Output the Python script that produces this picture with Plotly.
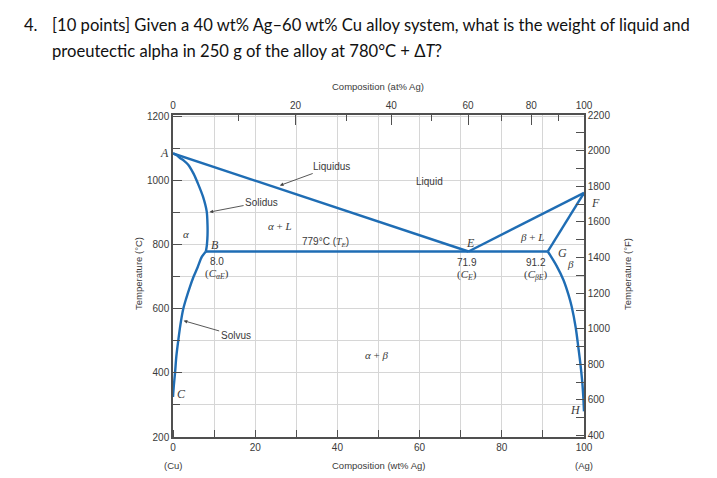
import plotly.graph_objects as go

# ---------------- data (wt% Ag, temperature degC) ----------------
liq_alpha_x = [0, 71.9]
liq_alpha_T = [1085, 779]
liq_beta_x = [71.9, 100]
liq_beta_T = [779, 962]
sol_alpha_x = [0, 0.8, 1.7, 2.7, 3.7, 5.0, 6.2, 7.3, 8.2, 8.4, 8.4, 8.25, 8.0]
sol_alpha_T = [1085, 1080, 1071, 1062, 1050, 1022, 987, 950, 904, 860, 830, 800, 779]
solv_alpha_x = [8.0, 7.0, 6.0, 5.0, 4.1, 3.2, 2.5, 1.8, 1.3, 0.8, 0.5, 0.2, 0.05, 0]
solv_alpha_T = [779, 762, 730, 700, 668, 632, 600, 550, 503, 450, 401, 360, 335, 325]
eut_x = [8.0, 91.2]
eut_T = [779, 779]
sol_beta_x = [100, 91.2]
sol_beta_T = [962, 779]
solv_beta_x = [91.2, 93.3, 95.0, 96.2, 97.0, 98.0, 98.6, 99.2, 99.6, 99.85, 100]
solv_beta_T = [779, 735, 690, 645, 607, 540, 482, 420, 368, 320, 280]

x_ticks_wt = [0, 20, 40, 60, 80, 100]
y_ticks_C = [200, 400, 600, 800, 1000, 1200]
y_ticks_F = [400, 600, 800, 1000, 1200, 1400, 1600, 1800, 2000, 2200]
at_major = [0, 20, 40, 60, 80, 100]
at_minor = [10, 30, 50, 70, 90]

M_AG, M_CU = 107.87, 63.55


def at_to_wt(a):
    return 100.0 * a * M_AG / (a * M_AG + (100 - a) * M_CU)


def c_to_f(c):
    return c * 1.8 + 32


BLUE = "#1f6db4"
AXC = "#505050"
GRID = "#d6d6d6"
TXT = "#3a3a3a"
SANS = "Liberation Sans"
SERIF = "Liberation Serif"

fig = go.Figure()
curves = [
    (liq_alpha_x, liq_alpha_T, "linear"),
    (liq_beta_x, liq_beta_T, "linear"),
    (sol_alpha_x, sol_alpha_T, "spline"),
    (solv_alpha_x, solv_alpha_T, "spline"),
    (eut_x, eut_T, "linear"),
    (sol_beta_x, sol_beta_T, "linear"),
    (solv_beta_x, solv_beta_T, "spline"),
]
for xs, ts, shp in curves:
    fig.add_trace(go.Scatter(
        x=xs, y=ts, mode="lines",
        line=dict(color=BLUE, width=2.4, shape=shp, smoothing=0.8),
        hoverinfo="skip", showlegend=False, cliponaxis=False))

# invisible traces to bind secondary axes
fig.add_trace(go.Scatter(x=eut_x, y=eut_T, xaxis="x2", yaxis="y", mode="lines",
                         line=dict(color="rgba(0,0,0,0)"), hoverinfo="skip", showlegend=False))
fig.add_trace(go.Scatter(x=eut_x, y=[c_to_f(t) for t in eut_T], xaxis="x", yaxis="y2", mode="lines",
                         line=dict(color="rgba(0,0,0,0)"), hoverinfo="skip", showlegend=False))

W, H = 717, 478
ML, MR, MT, MB = 173, 133, 115, 41
PW, PH = W - ML - MR, H - MT - MB


def px(xp):
    return (xp - ML) / PW


def py(yp):
    return (H - MB - yp) / PH


tickfont = dict(family=SANS, size=10, color=TXT)

fig.update_layout(
    width=W, height=H,
    margin=dict(l=ML, r=MR, t=MT, b=MB, autoexpand=False),
    paper_bgcolor="white", plot_bgcolor="white",
    xaxis=dict(range=[0, 100], tickmode="array", tickvals=x_ticks_wt, ticks="",
               showline=True, linecolor=AXC, linewidth=1.5, showgrid=True,
               gridcolor=GRID, gridwidth=1, zeroline=False, tickfont=tickfont,
               minor=dict(tick0=0, dtick=10, ticks="inside", ticklen=7, tickcolor=AXC,
                          showgrid=True, gridcolor=GRID, gridwidth=1),
               fixedrange=True),
    xaxis2=dict(range=[0, 100], overlaying="x", side="top", anchor="y",
                tickmode="array", tickvals=[at_to_wt(a) for a in at_major],
                ticktext=[str(a) for a in at_major], ticks="inside", ticklen=10,
                tickcolor=AXC, showline=True, linecolor=AXC, linewidth=1.5,
                showgrid=False, zeroline=False, tickfont=tickfont,
                minor=dict(tickmode="array", tickvals=[at_to_wt(a) for a in at_minor],
                           ticks="inside", ticklen=6, tickcolor=AXC, showgrid=False)),
    yaxis=dict(range=[200, 1205], tickmode="array", tickvals=y_ticks_C, ticks="inside",
               ticklen=9, tickcolor=AXC, showline=True, linecolor=AXC, linewidth=1.5,
               showgrid=True, gridcolor=GRID, gridwidth=1, zeroline=False,
               tickfont=tickfont,
               minor=dict(tick0=0, dtick=100, ticks="inside", ticklen=7, tickcolor=AXC,
                          showgrid=True, gridcolor=GRID, gridwidth=1)),
    yaxis2=dict(range=[c_to_f(200), c_to_f(1205)], overlaying="y", side="right", anchor="x",
                tickmode="array", tickvals=y_ticks_F, ticks="inside", ticklen=8,
                tickcolor=AXC, showline=True, linecolor=AXC, linewidth=1.5,
                showgrid=False, zeroline=False, tickfont=tickfont,
                minor=dict(tick0=0, dtick=100, ticks="inside", ticklen=8, tickcolor=AXC,
                           showgrid=False)),
)

ann = []


def A(text, x, y, xref="x", yref="y", size=10, family=SANS, color=TXT, xanchor="center",
      yanchor="middle", **kw):
    ann.append(dict(text=text, x=x, y=y, xref=xref, yref=yref, showarrow=False,
                    font=dict(family=family, size=size, color=color),
                    xanchor=xanchor, yanchor=yanchor, **kw))


def I(t):
    return "<i>" + t + "</i>"


# italic serif point / phase labels
A(I("A"), 0, 1085, family=SERIF, size=12, xanchor="right", xshift=-2)
A(I("B"), 10.2, 798, family=SERIF, size=12)
A(I("C"), 2.0, 334, family=SERIF, size=12)
A(I("E"), 72.4, 805, family=SERIF, size=12)
A(I("G"), 94.7, 773, family=SERIF, size=12)
A(I("H"), 98.0, 285, family=SERIF, size=12)
A(I("F"), 100, 930, family=SERIF, size=12, xanchor="left", xshift=5)
A(I("α"), 3.2, 834, family=SERIF, size=11)
A(I("β"), 96.6, 740, family=SERIF, size=11)
A(I("α") + " + " + I("L"), 26.0, 859, family=SERIF, size=11)
A(I("β") + " + " + I("L"), 87.3, 825, family=SERIF, size=11)
A(I("α") + " + " + I("β"), 49.6, 456, family=SERIF, size=11)

# sans labels
A("Liquid", 62.5, 997)
A("779°C (<span style='font-family:Liberation Serif'><i>T</i><sub><i>E</i></sub></span>)",
  37.2, 806)
A("8.0", 10.6, 748)
A("71.9", 71.6, 746)
A("91.2", 88.2, 746)
A("(<i>C</i><sub><i>αE</i></sub>)", 10.6, 708, family=SERIF, size=11)
A("(<i>C</i><sub><i>E</i></sub>)", 71.6, 706, family=SERIF, size=11)
A("(<i>C</i><sub><i>βE</i></sub>)", 88.2, 706, family=SERIF, size=11)

# arrow labels
for text, tx, tT, ax, ay in [("Liquidus", 26.0, 985, 52, -19),
                             ("Solidus", 8.9, 902, 52, -10),
                             ("Solvus", 2.6, 563, 52, 15)]:
    ann.append(dict(text=text, x=tx, y=tT, xref="x", yref="y", showarrow=True,
                    ax=ax, ay=ay, arrowhead=2, arrowsize=0.8, arrowwidth=0.9,
                    arrowcolor="#444444", standoff=0,
                    font=dict(family=SANS, size=10, color=TXT)))

# axis titles and end labels
A("Composition (at% Ag)", px(378), py(86), xref="paper", yref="paper", size=9.5)
A("Composition (wt% Ag)", px(378), py(466), xref="paper", yref="paper", size=9.5)
A("(Cu)", px(173), py(466), xref="paper", yref="paper", size=9.5)
A("(Ag)", px(584), py(466), xref="paper", yref="paper", size=9.5)
A("Temperature (°C)", px(138), py(274), xref="paper", yref="paper", size=9.5, textangle=-90)
A("Temperature (°F)", px(627), py(274), xref="paper", yref="paper", size=9.5, textangle=-90)

# question title
TF = "Lato"
TS = 16.6
A("4.", px(22), py(25), xref="paper", yref="paper", size=TS, family=TF, color="#111111",
  xanchor="left")
A("[10 points] Given a 40 wt% Ag–60 wt% Cu alloy system, what is the weight of liquid and",
  px(50), py(25), xref="paper", yref="paper", size=TS, family=TF, color="#111111",
  xanchor="left")
A("proeutectic alpha in 250 g of the alloy at 780°C + Δ<i>T</i>?",
  px(50), py(51), xref="paper", yref="paper", size=TS, family=TF, color="#111111",
  xanchor="left")

fig.update_layout(annotations=ann)
fig.write_html("out.html")
